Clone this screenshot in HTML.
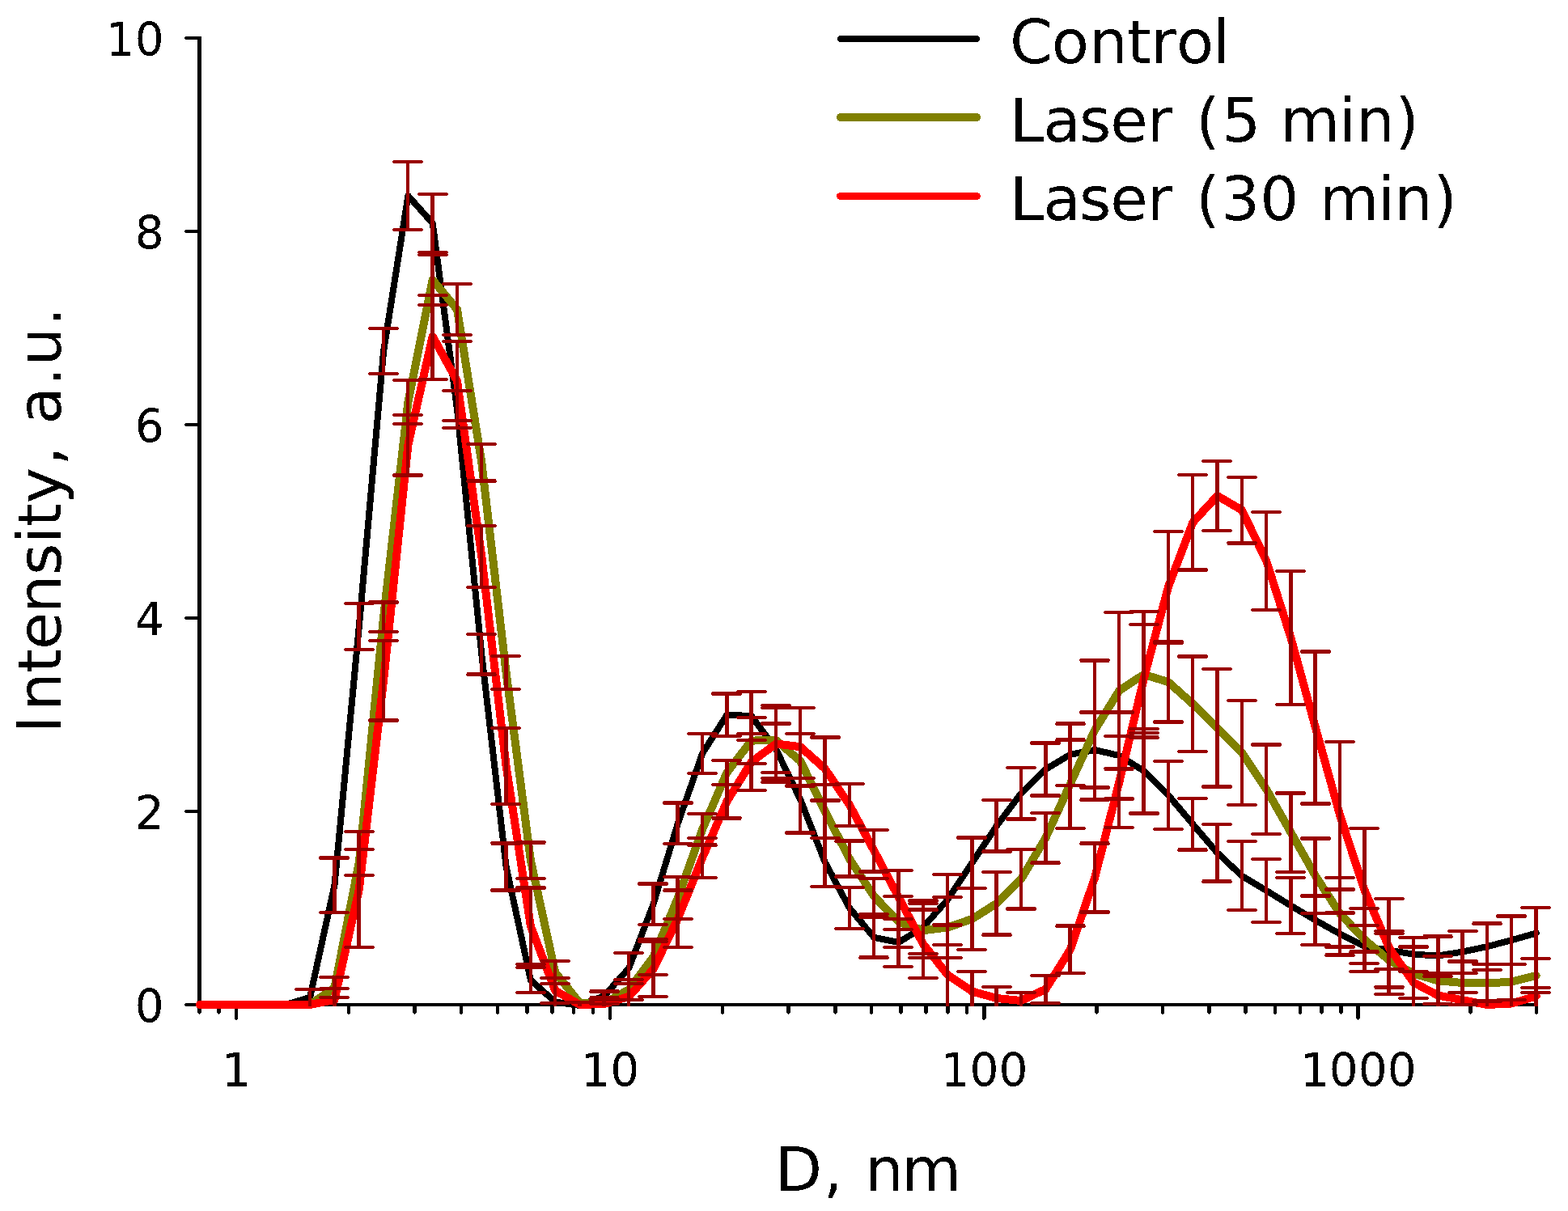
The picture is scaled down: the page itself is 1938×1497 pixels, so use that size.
<!DOCTYPE html>
<html lang="en"><head><meta charset="utf-8"><title>DLS intensity distribution</title>
<style>html,body{margin:0;padding:0;background:#fff}body{width:1938px;height:1497px;overflow:hidden}svg{display:block}text{font-family:"DejaVu Sans","Liberation Sans",sans-serif;fill:#000}</style></head><body>
<svg width="1938" height="1497" viewBox="0 0 1938 1497" shape-rendering="crispEdges">
<defs><clipPath id="eb"><rect x="0" y="0" width="1938" height="1244"/></clipPath><filter id="crisp" x="0" y="0" width="100%" height="100%" filterUnits="userSpaceOnUse" color-interpolation-filters="sRGB"><feComponentTransfer><feFuncA type="discrete" tableValues="0 1"/></feComponentTransfer></filter></defs>
<rect width="1938" height="1497" fill="#fff"/>
<path d="M246.5 45 V1244" fill="none" stroke="#000" stroke-width="5"/>
<path d="M244 1242 H1901.3" fill="none" stroke="#000" stroke-width="4"/>
<path d="M246 1240 H229.3 L227.2 1242 L229.3 1244 H246 Z M246 1001 H229.3 L227.2 1003 L229.3 1005 H246 Z M246 762 H229.3 L227.2 764 L229.3 766 H246 Z M246 523 H229.3 L227.2 525 L229.3 527 H246 Z M246 284 H229.3 L227.2 286 L229.3 288 H246 Z M246 45 H229.3 L227.2 47 L229.3 49 H246 Z M244.00 1242 V1252 L246.50 1254.3 L249.00 1252 V1242 Z M268.35 1242 V1252 L270.60 1254.3 L272.85 1252 V1242 Z M289.50 1242 V1259 L291.75 1261.3 L294.00 1259 V1242 Z M428.65 1242 V1252 L430.90 1254.3 L433.15 1252 V1242 Z M510.05 1242 V1252 L512.30 1254.3 L514.55 1252 V1242 Z M567.80 1242 V1252 L570.05 1254.3 L572.30 1252 V1242 Z M612.60 1242 V1252 L614.85 1254.3 L617.10 1252 V1242 Z M649.20 1242 V1252 L651.45 1254.3 L653.70 1252 V1242 Z M680.15 1242 V1252 L682.40 1254.3 L684.65 1252 V1242 Z M706.95 1242 V1252 L709.20 1254.3 L711.45 1252 V1242 Z M730.60 1242 V1252 L732.85 1254.3 L735.10 1252 V1242 Z M751.75 1242 V1259 L754.00 1261.3 L756.25 1259 V1242 Z M890.90 1242 V1252 L893.15 1254.3 L895.40 1252 V1242 Z M972.30 1242 V1252 L974.55 1254.3 L976.80 1252 V1242 Z M1030.05 1242 V1252 L1032.30 1254.3 L1034.55 1252 V1242 Z M1074.85 1242 V1252 L1077.10 1254.3 L1079.35 1252 V1242 Z M1111.45 1242 V1252 L1113.70 1254.3 L1115.95 1252 V1242 Z M1142.40 1242 V1252 L1144.65 1254.3 L1146.90 1252 V1242 Z M1169.20 1242 V1252 L1171.45 1254.3 L1173.70 1252 V1242 Z M1192.85 1242 V1252 L1195.10 1254.3 L1197.35 1252 V1242 Z M1214.00 1242 V1259 L1216.25 1261.3 L1218.50 1259 V1242 Z M1353.15 1242 V1252 L1355.40 1254.3 L1357.65 1252 V1242 Z M1434.55 1242 V1252 L1436.80 1254.3 L1439.05 1252 V1242 Z M1492.30 1242 V1252 L1494.55 1254.3 L1496.80 1252 V1242 Z M1537.10 1242 V1252 L1539.35 1254.3 L1541.60 1252 V1242 Z M1573.70 1242 V1252 L1575.95 1254.3 L1578.20 1252 V1242 Z M1604.65 1242 V1252 L1606.90 1254.3 L1609.15 1252 V1242 Z M1631.45 1242 V1252 L1633.70 1254.3 L1635.95 1252 V1242 Z M1655.10 1242 V1252 L1657.35 1254.3 L1659.60 1252 V1242 Z M1676.25 1242 V1259 L1678.50 1261.3 L1680.75 1259 V1242 Z M1815.40 1242 V1252 L1817.65 1254.3 L1819.90 1252 V1242 Z M1896.80 1242 V1252 L1899.05 1254.3 L1901.30 1252 V1242 Z" fill="#000" stroke="none"/>
<polyline points="247.0,1242.0 352.8,1242.0 383.1,1233.0 413.5,1094.0 443.8,774.5 474.1,434.0 504.4,242.0 534.7,276.0 565.0,506.0 595.3,808.8 625.6,1071.4 655.9,1211.5 686.2,1238.5 716.6,1243.0 746.9,1231.0 777.2,1197.0 807.5,1117.7 837.8,1017.9 868.1,931.5 898.4,883.7 928.7,885.0 959.0,926.0 989.3,988.5 1019.7,1065.9 1050.0,1122.5 1080.3,1158.9 1110.6,1165.0 1140.9,1146.2 1171.2,1112.2 1201.5,1066.6 1231.8,1020.8 1262.1,980.7 1292.4,951.0 1322.8,932.8 1353.1,927.0 1383.4,934.0 1413.7,953.0 1444.0,983.0 1474.3,1018.8 1504.6,1054.3 1534.9,1082.7 1565.2,1100.9 1595.5,1119.5 1625.9,1137.6 1656.2,1154.5 1686.5,1170.0 1716.8,1174.6 1747.1,1179.7 1777.4,1181.5 1807.7,1176.6 1838.0,1170.2 1868.3,1162.2 1898.7,1153.5" fill="none" stroke="#000000" stroke-width="8" stroke-linejoin="round" stroke-linecap="round"/>
<polyline points="247.0,1242.0 383.1,1242.0 413.5,1221.0 443.8,1066.0 474.1,762.7 504.4,497.0 534.7,346.0 565.0,382.5 595.3,571.8 625.6,831.5 655.9,1063.6 686.2,1202.0 716.6,1240.0 746.9,1240.0 777.2,1223.4 807.5,1183.0 837.8,1110.0 868.1,1025.4 898.4,955.0 928.7,915.6 959.0,915.0 989.3,941.0 1019.7,1003.0 1050.0,1061.7 1080.3,1108.0 1110.6,1139.5 1140.9,1150.2 1171.2,1146.5 1201.5,1136.0 1231.8,1116.8 1262.1,1086.8 1292.4,1035.7 1322.8,969.2 1353.1,902.5 1383.4,853.6 1413.7,833.8 1444.0,843.1 1474.3,870.2 1504.6,899.7 1534.9,930.5 1565.2,975.7 1595.5,1029.2 1625.9,1082.7 1656.2,1129.5 1686.5,1161.5 1716.8,1186.9 1747.1,1203.5 1777.4,1212.3 1807.7,1215.0 1838.0,1215.5 1868.3,1213.6 1898.7,1205.9" fill="none" stroke="#808000" stroke-width="10" stroke-linejoin="round" stroke-linecap="round"/>
<polyline points="247.0,1242.0 383.1,1242.0 413.5,1236.0 443.8,1099.5 474.1,841.0 504.4,550.0 534.7,415.8 565.0,471.0 595.3,687.9 625.6,947.0 655.9,1144.9 686.2,1224.5 716.6,1242.0 746.9,1241.0 777.2,1232.0 807.5,1198.0 837.8,1135.7 868.1,1060.4 898.4,990.7 928.7,942.0 959.0,919.5 989.3,923.2 1019.7,950.4 1050.0,995.1 1080.3,1051.6 1110.6,1109.0 1140.9,1166.8 1171.2,1205.0 1201.5,1225.5 1231.8,1234.0 1262.1,1237.0 1292.4,1222.8 1322.8,1173.8 1353.1,1085.0 1383.4,966.5 1413.7,839.0 1444.0,725.4 1474.3,645.8 1504.6,612.9 1534.9,630.6 1565.2,693.4 1595.5,788.5 1625.9,899.5 1656.2,1008.0 1686.5,1100.4 1716.8,1171.5 1747.1,1214.5 1777.4,1230.5 1807.7,1236.3 1838.0,1242.0 1868.3,1240.5 1898.7,1231.4" fill="none" stroke="#ff0000" stroke-width="10" stroke-linejoin="round" stroke-linecap="round"/>
<g clip-path="url(#eb)"><path d="M380.75 1223.0 h4.5 V1260.0 h-4.5 Z M365 1220.75 h36 v4.5 h-36 Z M364 1221.90 h38 v2.2 h-38 Z M411.06 1060.4 h4.5 V1128.0 h-4.5 Z M395 1058.15 h36 v4.5 h-36 Z M394 1059.30 h38 v2.2 h-38 Z M395 1125.75 h36 v4.5 h-36 Z M394 1126.90 h38 v2.2 h-38 Z M441.37 746.0 h4.5 V803.0 h-4.5 Z M426 743.75 h36 v4.5 h-36 Z M425 744.90 h38 v2.2 h-38 Z M426 800.75 h36 v4.5 h-36 Z M425 801.90 h38 v2.2 h-38 Z M471.68 406.0 h4.5 V462.0 h-4.5 Z M456 403.75 h36 v4.5 h-36 Z M455 404.90 h38 v2.2 h-38 Z M456 459.75 h36 v4.5 h-36 Z M455 460.90 h38 v2.2 h-38 Z M501.99 200.0 h4.5 V284.0 h-4.5 Z M486 197.75 h36 v4.5 h-36 Z M485 198.90 h38 v2.2 h-38 Z M486 281.75 h36 v4.5 h-36 Z M485 282.90 h38 v2.2 h-38 Z M532.30 240.0 h4.5 V312.0 h-4.5 Z M517 237.75 h36 v4.5 h-36 Z M516 238.90 h38 v2.2 h-38 Z M517 309.75 h36 v4.5 h-36 Z M516 310.90 h38 v2.2 h-38 Z M562.61 483.0 h4.5 V528.8 h-4.5 Z M547 480.75 h36 v4.5 h-36 Z M546 481.90 h38 v2.2 h-38 Z M547 526.55 h36 v4.5 h-36 Z M546 527.70 h38 v2.2 h-38 Z M592.92 784.0 h4.5 V833.6 h-4.5 Z M577 781.75 h36 v4.5 h-36 Z M576 782.90 h38 v2.2 h-38 Z M577 831.35 h36 v4.5 h-36 Z M576 832.50 h38 v2.2 h-38 Z M623.23 1042.3 h4.5 V1100.5 h-4.5 Z M607 1040.05 h36 v4.5 h-36 Z M606 1041.20 h38 v2.2 h-38 Z M607 1098.25 h36 v4.5 h-36 Z M606 1099.40 h38 v2.2 h-38 Z M653.54 1196.0 h4.5 V1227.0 h-4.5 Z M638 1193.75 h36 v4.5 h-36 Z M637 1194.90 h38 v2.2 h-38 Z M638 1224.75 h36 v4.5 h-36 Z M637 1225.90 h38 v2.2 h-38 Z M683.85 1240.0 h4.5 V1260.0 h-4.5 Z M668 1237.75 h36 v4.5 h-36 Z M667 1238.90 h38 v2.2 h-38 Z M714.16 1239.0 h4.5 V1260.0 h-4.5 Z M698 1236.75 h36 v4.5 h-36 Z M697 1237.90 h38 v2.2 h-38 Z M744.47 1225.7 h4.5 V1236.0 h-4.5 Z M729 1223.45 h36 v4.5 h-36 Z M728 1224.60 h38 v2.2 h-38 Z M729 1233.75 h36 v4.5 h-36 Z M728 1234.90 h38 v2.2 h-38 Z M774.78 1178.0 h4.5 V1215.8 h-4.5 Z M759 1175.75 h36 v4.5 h-36 Z M758 1176.90 h38 v2.2 h-38 Z M759 1213.55 h36 v4.5 h-36 Z M758 1214.70 h38 v2.2 h-38 Z M805.09 1092.4 h4.5 V1143.0 h-4.5 Z M789 1090.15 h36 v4.5 h-36 Z M788 1091.30 h38 v2.2 h-38 Z M789 1140.75 h36 v4.5 h-36 Z M788 1141.90 h38 v2.2 h-38 Z M835.40 992.5 h4.5 V1043.2 h-4.5 Z M820 990.25 h36 v4.5 h-36 Z M819 991.40 h38 v2.2 h-38 Z M820 1040.95 h36 v4.5 h-36 Z M819 1042.10 h38 v2.2 h-38 Z M865.71 907.0 h4.5 V956.0 h-4.5 Z M850 904.75 h36 v4.5 h-36 Z M849 905.90 h38 v2.2 h-38 Z M850 953.75 h36 v4.5 h-36 Z M849 954.90 h38 v2.2 h-38 Z M896.02 857.4 h4.5 V910.0 h-4.5 Z M880 855.15 h36 v4.5 h-36 Z M879 856.30 h38 v2.2 h-38 Z M880 907.75 h36 v4.5 h-36 Z M879 908.90 h38 v2.2 h-38 Z M926.33 854.9 h4.5 V915.2 h-4.5 Z M911 852.65 h36 v4.5 h-36 Z M910 853.80 h38 v2.2 h-38 Z M911 912.95 h36 v4.5 h-36 Z M910 914.10 h38 v2.2 h-38 Z M956.64 874.9 h4.5 V966.7 h-4.5 Z M941 872.65 h36 v4.5 h-36 Z M940 873.80 h38 v2.2 h-38 Z M941 964.45 h36 v4.5 h-36 Z M940 965.60 h38 v2.2 h-38 Z M986.95 962.2 h4.5 V1029.5 h-4.5 Z M971 959.95 h36 v4.5 h-36 Z M970 961.10 h38 v2.2 h-38 Z M971 1027.25 h36 v4.5 h-36 Z M970 1028.40 h38 v2.2 h-38 Z M1017.26 1035.8 h4.5 V1096.0 h-4.5 Z M1002 1033.55 h36 v4.5 h-36 Z M1001 1034.70 h38 v2.2 h-38 Z M1002 1093.75 h36 v4.5 h-36 Z M1001 1094.90 h38 v2.2 h-38 Z M1047.57 1097.0 h4.5 V1148.0 h-4.5 Z M1032 1094.75 h36 v4.5 h-36 Z M1031 1095.90 h38 v2.2 h-38 Z M1032 1145.75 h36 v4.5 h-36 Z M1031 1146.90 h38 v2.2 h-38 Z M1077.88 1134.0 h4.5 V1183.7 h-4.5 Z M1062 1131.75 h36 v4.5 h-36 Z M1061 1132.90 h38 v2.2 h-38 Z M1062 1181.45 h36 v4.5 h-36 Z M1061 1182.60 h38 v2.2 h-38 Z M1108.19 1135.8 h4.5 V1195.0 h-4.5 Z M1092 1133.55 h36 v4.5 h-36 Z M1091 1134.70 h38 v2.2 h-38 Z M1092 1192.75 h36 v4.5 h-36 Z M1091 1193.90 h38 v2.2 h-38 Z M1138.50 1113.5 h4.5 V1178.9 h-4.5 Z M1123 1111.25 h36 v4.5 h-36 Z M1122 1112.40 h38 v2.2 h-38 Z M1123 1176.65 h36 v4.5 h-36 Z M1122 1177.80 h38 v2.2 h-38 Z M1168.81 1081.2 h4.5 V1143.3 h-4.5 Z M1153 1078.95 h36 v4.5 h-36 Z M1152 1080.10 h38 v2.2 h-38 Z M1153 1141.05 h36 v4.5 h-36 Z M1152 1142.20 h38 v2.2 h-38 Z M1199.12 1035.4 h4.5 V1097.9 h-4.5 Z M1183 1033.15 h36 v4.5 h-36 Z M1182 1034.30 h38 v2.2 h-38 Z M1183 1095.65 h36 v4.5 h-36 Z M1182 1096.80 h38 v2.2 h-38 Z M1229.43 988.9 h4.5 V1052.7 h-4.5 Z M1214 986.65 h36 v4.5 h-36 Z M1213 987.80 h38 v2.2 h-38 Z M1214 1050.45 h36 v4.5 h-36 Z M1213 1051.60 h38 v2.2 h-38 Z M1259.74 949.0 h4.5 V1012.4 h-4.5 Z M1244 946.75 h36 v4.5 h-36 Z M1243 947.90 h38 v2.2 h-38 Z M1244 1010.15 h36 v4.5 h-36 Z M1243 1011.30 h38 v2.2 h-38 Z M1290.05 918.5 h4.5 V983.4 h-4.5 Z M1274 916.25 h36 v4.5 h-36 Z M1273 917.40 h38 v2.2 h-38 Z M1274 981.15 h36 v4.5 h-36 Z M1273 982.30 h38 v2.2 h-38 Z M1320.36 894.7 h4.5 V970.8 h-4.5 Z M1305 892.45 h36 v4.5 h-36 Z M1304 893.60 h38 v2.2 h-38 Z M1305 968.55 h36 v4.5 h-36 Z M1304 969.70 h38 v2.2 h-38 Z M1350.67 880.4 h4.5 V973.5 h-4.5 Z M1335 878.15 h36 v4.5 h-36 Z M1334 879.30 h38 v2.2 h-38 Z M1335 971.25 h36 v4.5 h-36 Z M1334 972.40 h38 v2.2 h-38 Z M1380.98 880.4 h4.5 V987.5 h-4.5 Z M1365 878.15 h36 v4.5 h-36 Z M1364 879.30 h38 v2.2 h-38 Z M1365 985.25 h36 v4.5 h-36 Z M1364 986.40 h38 v2.2 h-38 Z M1411.29 900.9 h4.5 V1005.4 h-4.5 Z M1396 898.65 h36 v4.5 h-36 Z M1395 899.80 h38 v2.2 h-38 Z M1396 1003.15 h36 v4.5 h-36 Z M1395 1004.30 h38 v2.2 h-38 Z M1441.60 941.0 h4.5 V1025.0 h-4.5 Z M1426 938.75 h36 v4.5 h-36 Z M1425 939.90 h38 v2.2 h-38 Z M1426 1022.75 h36 v4.5 h-36 Z M1425 1023.90 h38 v2.2 h-38 Z M1471.91 987.0 h4.5 V1050.7 h-4.5 Z M1456 984.75 h36 v4.5 h-36 Z M1455 985.90 h38 v2.2 h-38 Z M1456 1048.45 h36 v4.5 h-36 Z M1455 1049.60 h38 v2.2 h-38 Z M1502.22 1018.9 h4.5 V1089.7 h-4.5 Z M1486 1016.65 h36 v4.5 h-36 Z M1485 1017.80 h38 v2.2 h-38 Z M1486 1087.45 h36 v4.5 h-36 Z M1485 1088.60 h38 v2.2 h-38 Z M1532.53 1040.2 h4.5 V1125.1 h-4.5 Z M1517 1037.95 h36 v4.5 h-36 Z M1516 1039.10 h38 v2.2 h-38 Z M1517 1122.85 h36 v4.5 h-36 Z M1516 1124.00 h38 v2.2 h-38 Z M1562.84 1061.9 h4.5 V1139.9 h-4.5 Z M1547 1059.65 h36 v4.5 h-36 Z M1546 1060.80 h38 v2.2 h-38 Z M1547 1137.65 h36 v4.5 h-36 Z M1546 1138.80 h38 v2.2 h-38 Z M1593.15 1085.0 h4.5 V1153.9 h-4.5 Z M1577 1082.75 h36 v4.5 h-36 Z M1576 1083.90 h38 v2.2 h-38 Z M1577 1151.65 h36 v4.5 h-36 Z M1576 1152.80 h38 v2.2 h-38 Z M1623.46 1107.5 h4.5 V1167.8 h-4.5 Z M1608 1105.25 h36 v4.5 h-36 Z M1607 1106.40 h38 v2.2 h-38 Z M1608 1165.55 h36 v4.5 h-36 Z M1607 1166.70 h38 v2.2 h-38 Z M1653.77 1128.4 h4.5 V1180.7 h-4.5 Z M1638 1126.15 h36 v4.5 h-36 Z M1637 1127.30 h38 v2.2 h-38 Z M1638 1178.45 h36 v4.5 h-36 Z M1637 1179.60 h38 v2.2 h-38 Z M1684.08 1143.8 h4.5 V1200.9 h-4.5 Z M1668 1141.55 h36 v4.5 h-36 Z M1667 1142.70 h38 v2.2 h-38 Z M1668 1198.65 h36 v4.5 h-36 Z M1667 1199.80 h38 v2.2 h-38 Z M1714.39 1151.0 h4.5 V1198.2 h-4.5 Z M1699 1148.75 h36 v4.5 h-36 Z M1698 1149.90 h38 v2.2 h-38 Z M1699 1195.95 h36 v4.5 h-36 Z M1698 1197.10 h38 v2.2 h-38 Z M1744.70 1159.2 h4.5 V1201.0 h-4.5 Z M1729 1156.95 h36 v4.5 h-36 Z M1728 1158.10 h38 v2.2 h-38 Z M1729 1198.75 h36 v4.5 h-36 Z M1728 1199.90 h38 v2.2 h-38 Z M1775.01 1157.7 h4.5 V1203.3 h-4.5 Z M1759 1155.45 h36 v4.5 h-36 Z M1758 1156.60 h38 v2.2 h-38 Z M1759 1201.05 h36 v4.5 h-36 Z M1758 1202.20 h38 v2.2 h-38 Z M1805.32 1151.0 h4.5 V1203.1 h-4.5 Z M1790 1148.75 h36 v4.5 h-36 Z M1789 1149.90 h38 v2.2 h-38 Z M1790 1200.85 h36 v4.5 h-36 Z M1789 1202.00 h38 v2.2 h-38 Z M1835.63 1141.7 h4.5 V1198.8 h-4.5 Z M1820 1139.45 h36 v4.5 h-36 Z M1819 1140.60 h38 v2.2 h-38 Z M1820 1196.55 h36 v4.5 h-36 Z M1819 1197.70 h38 v2.2 h-38 Z M1865.94 1132.5 h4.5 V1192.0 h-4.5 Z M1850 1130.25 h36 v4.5 h-36 Z M1849 1131.40 h38 v2.2 h-38 Z M1850 1189.75 h36 v4.5 h-36 Z M1849 1190.90 h38 v2.2 h-38 Z M1896.25 1122.2 h4.5 V1184.8 h-4.5 Z M1880 1119.95 h36 v4.5 h-36 Z M1879 1121.10 h38 v2.2 h-38 Z M1880 1182.55 h36 v4.5 h-36 Z M1879 1183.70 h38 v2.2 h-38 Z M411.06 1208.0 h4.5 V1233.0 h-4.5 Z M395 1205.75 h36 v4.5 h-36 Z M394 1206.90 h38 v2.2 h-38 Z M395 1230.75 h36 v4.5 h-36 Z M394 1231.90 h38 v2.2 h-38 Z M441.37 1050.0 h4.5 V1082.0 h-4.5 Z M426 1047.75 h36 v4.5 h-36 Z M425 1048.90 h38 v2.2 h-38 Z M426 1079.75 h36 v4.5 h-36 Z M425 1080.90 h38 v2.2 h-38 Z M471.68 744.4 h4.5 V781.0 h-4.5 Z M456 742.15 h36 v4.5 h-36 Z M455 743.30 h38 v2.2 h-38 Z M456 778.75 h36 v4.5 h-36 Z M455 779.90 h38 v2.2 h-38 Z M501.99 470.0 h4.5 V524.0 h-4.5 Z M486 467.75 h36 v4.5 h-36 Z M485 468.90 h38 v2.2 h-38 Z M486 521.75 h36 v4.5 h-36 Z M485 522.90 h38 v2.2 h-38 Z M532.30 314.6 h4.5 V377.0 h-4.5 Z M517 312.35 h36 v4.5 h-36 Z M516 313.50 h38 v2.2 h-38 Z M517 374.75 h36 v4.5 h-36 Z M516 375.90 h38 v2.2 h-38 Z M562.61 351.0 h4.5 V414.0 h-4.5 Z M547 348.75 h36 v4.5 h-36 Z M546 349.90 h38 v2.2 h-38 Z M547 411.75 h36 v4.5 h-36 Z M546 412.90 h38 v2.2 h-38 Z M592.92 548.9 h4.5 V594.7 h-4.5 Z M577 546.65 h36 v4.5 h-36 Z M576 547.80 h38 v2.2 h-38 Z M577 592.45 h36 v4.5 h-36 Z M576 593.60 h38 v2.2 h-38 Z M623.23 811.0 h4.5 V852.0 h-4.5 Z M607 808.75 h36 v4.5 h-36 Z M606 809.90 h38 v2.2 h-38 Z M607 849.75 h36 v4.5 h-36 Z M606 850.90 h38 v2.2 h-38 Z M653.54 1041.3 h4.5 V1085.9 h-4.5 Z M638 1039.05 h36 v4.5 h-36 Z M637 1040.20 h38 v2.2 h-38 Z M638 1083.65 h36 v4.5 h-36 Z M637 1084.80 h38 v2.2 h-38 Z M683.85 1188.2 h4.5 V1215.8 h-4.5 Z M668 1185.95 h36 v4.5 h-36 Z M667 1187.10 h38 v2.2 h-38 Z M668 1213.55 h36 v4.5 h-36 Z M667 1214.70 h38 v2.2 h-38 Z M744.47 1233.7 h4.5 V1260.0 h-4.5 Z M729 1231.45 h36 v4.5 h-36 Z M728 1232.60 h38 v2.2 h-38 Z M774.78 1210.8 h4.5 V1236.0 h-4.5 Z M759 1208.55 h36 v4.5 h-36 Z M758 1209.70 h38 v2.2 h-38 Z M759 1233.75 h36 v4.5 h-36 Z M758 1234.90 h38 v2.2 h-38 Z M805.09 1161.0 h4.5 V1205.0 h-4.5 Z M789 1158.75 h36 v4.5 h-36 Z M788 1159.90 h38 v2.2 h-38 Z M789 1202.75 h36 v4.5 h-36 Z M788 1203.90 h38 v2.2 h-38 Z M835.40 1084.0 h4.5 V1135.8 h-4.5 Z M820 1081.75 h36 v4.5 h-36 Z M819 1082.90 h38 v2.2 h-38 Z M820 1133.55 h36 v4.5 h-36 Z M819 1134.70 h38 v2.2 h-38 Z M865.71 1006.2 h4.5 V1044.6 h-4.5 Z M850 1003.95 h36 v4.5 h-36 Z M849 1005.10 h38 v2.2 h-38 Z M850 1042.35 h36 v4.5 h-36 Z M849 1043.50 h38 v2.2 h-38 Z M896.02 939.9 h4.5 V970.2 h-4.5 Z M880 937.65 h36 v4.5 h-36 Z M879 938.80 h38 v2.2 h-38 Z M880 967.95 h36 v4.5 h-36 Z M879 969.10 h38 v2.2 h-38 Z M926.33 887.1 h4.5 V944.0 h-4.5 Z M911 884.85 h36 v4.5 h-36 Z M910 886.00 h38 v2.2 h-38 Z M911 941.75 h36 v4.5 h-36 Z M910 942.90 h38 v2.2 h-38 Z M956.64 871.8 h4.5 V955.1 h-4.5 Z M941 869.55 h36 v4.5 h-36 Z M940 870.70 h38 v2.2 h-38 Z M941 952.85 h36 v4.5 h-36 Z M940 954.00 h38 v2.2 h-38 Z M986.95 907.0 h4.5 V971.5 h-4.5 Z M971 904.75 h36 v4.5 h-36 Z M970 905.90 h38 v2.2 h-38 Z M971 969.25 h36 v4.5 h-36 Z M970 970.40 h38 v2.2 h-38 Z M1017.26 970.2 h4.5 V1035.8 h-4.5 Z M1002 967.95 h36 v4.5 h-36 Z M1001 969.10 h38 v2.2 h-38 Z M1002 1033.55 h36 v4.5 h-36 Z M1001 1034.70 h38 v2.2 h-38 Z M1047.57 1039.7 h4.5 V1083.7 h-4.5 Z M1032 1037.45 h36 v4.5 h-36 Z M1031 1038.60 h38 v2.2 h-38 Z M1032 1081.45 h36 v4.5 h-36 Z M1031 1082.60 h38 v2.2 h-38 Z M1077.88 1085.9 h4.5 V1130.2 h-4.5 Z M1062 1083.65 h36 v4.5 h-36 Z M1061 1084.80 h38 v2.2 h-38 Z M1062 1127.95 h36 v4.5 h-36 Z M1061 1129.10 h38 v2.2 h-38 Z M1108.19 1108.0 h4.5 V1171.1 h-4.5 Z M1092 1105.75 h36 v4.5 h-36 Z M1091 1106.90 h38 v2.2 h-38 Z M1092 1168.85 h36 v4.5 h-36 Z M1091 1170.00 h38 v2.2 h-38 Z M1138.50 1116.6 h4.5 V1183.9 h-4.5 Z M1123 1114.35 h36 v4.5 h-36 Z M1122 1115.50 h38 v2.2 h-38 Z M1123 1181.65 h36 v4.5 h-36 Z M1122 1182.80 h38 v2.2 h-38 Z M1168.81 1109.2 h4.5 V1183.9 h-4.5 Z M1153 1106.95 h36 v4.5 h-36 Z M1152 1108.10 h38 v2.2 h-38 Z M1153 1181.65 h36 v4.5 h-36 Z M1152 1182.80 h38 v2.2 h-38 Z M1199.12 1098.0 h4.5 V1174.0 h-4.5 Z M1183 1095.75 h36 v4.5 h-36 Z M1182 1096.90 h38 v2.2 h-38 Z M1183 1171.75 h36 v4.5 h-36 Z M1182 1172.90 h38 v2.2 h-38 Z M1229.43 1078.0 h4.5 V1155.6 h-4.5 Z M1214 1075.75 h36 v4.5 h-36 Z M1213 1076.90 h38 v2.2 h-38 Z M1214 1153.35 h36 v4.5 h-36 Z M1213 1154.50 h38 v2.2 h-38 Z M1259.74 1050.2 h4.5 V1123.4 h-4.5 Z M1244 1047.95 h36 v4.5 h-36 Z M1243 1049.10 h38 v2.2 h-38 Z M1244 1121.15 h36 v4.5 h-36 Z M1243 1122.30 h38 v2.2 h-38 Z M1290.05 1004.8 h4.5 V1066.7 h-4.5 Z M1274 1002.55 h36 v4.5 h-36 Z M1273 1003.70 h38 v2.2 h-38 Z M1274 1064.45 h36 v4.5 h-36 Z M1273 1065.60 h38 v2.2 h-38 Z M1320.36 914.6 h4.5 V1023.8 h-4.5 Z M1305 912.35 h36 v4.5 h-36 Z M1304 913.50 h38 v2.2 h-38 Z M1305 1021.55 h36 v4.5 h-36 Z M1304 1022.70 h38 v2.2 h-38 Z M1350.67 816.3 h4.5 V988.7 h-4.5 Z M1335 814.05 h36 v4.5 h-36 Z M1334 815.20 h38 v2.2 h-38 Z M1335 986.45 h36 v4.5 h-36 Z M1334 987.60 h38 v2.2 h-38 Z M1380.98 757.0 h4.5 V950.3 h-4.5 Z M1365 754.75 h36 v4.5 h-36 Z M1364 755.90 h38 v2.2 h-38 Z M1365 948.05 h36 v4.5 h-36 Z M1364 949.20 h38 v2.2 h-38 Z M1411.29 755.8 h4.5 V911.7 h-4.5 Z M1396 753.55 h36 v4.5 h-36 Z M1395 754.70 h38 v2.2 h-38 Z M1396 909.45 h36 v4.5 h-36 Z M1395 910.60 h38 v2.2 h-38 Z M1441.60 793.0 h4.5 V892.5 h-4.5 Z M1426 790.75 h36 v4.5 h-36 Z M1425 791.90 h38 v2.2 h-38 Z M1426 890.25 h36 v4.5 h-36 Z M1425 891.40 h38 v2.2 h-38 Z M1471.91 811.4 h4.5 V929.0 h-4.5 Z M1456 809.15 h36 v4.5 h-36 Z M1455 810.30 h38 v2.2 h-38 Z M1456 926.75 h36 v4.5 h-36 Z M1455 927.90 h38 v2.2 h-38 Z M1502.22 826.9 h4.5 V972.4 h-4.5 Z M1486 824.65 h36 v4.5 h-36 Z M1485 825.80 h38 v2.2 h-38 Z M1486 970.15 h36 v4.5 h-36 Z M1485 971.30 h38 v2.2 h-38 Z M1532.53 866.0 h4.5 V995.0 h-4.5 Z M1517 863.75 h36 v4.5 h-36 Z M1516 864.90 h38 v2.2 h-38 Z M1517 992.75 h36 v4.5 h-36 Z M1516 993.90 h38 v2.2 h-38 Z M1562.84 920.4 h4.5 V1030.9 h-4.5 Z M1547 918.15 h36 v4.5 h-36 Z M1546 919.30 h38 v2.2 h-38 Z M1547 1028.65 h36 v4.5 h-36 Z M1546 1029.80 h38 v2.2 h-38 Z M1593.15 980.4 h4.5 V1078.0 h-4.5 Z M1577 978.15 h36 v4.5 h-36 Z M1576 979.30 h38 v2.2 h-38 Z M1577 1075.75 h36 v4.5 h-36 Z M1576 1076.90 h38 v2.2 h-38 Z M1623.46 1036.5 h4.5 V1128.8 h-4.5 Z M1608 1034.25 h36 v4.5 h-36 Z M1607 1035.40 h38 v2.2 h-38 Z M1608 1126.55 h36 v4.5 h-36 Z M1607 1127.70 h38 v2.2 h-38 Z M1653.77 1085.0 h4.5 V1170.5 h-4.5 Z M1638 1082.75 h36 v4.5 h-36 Z M1637 1083.90 h38 v2.2 h-38 Z M1638 1168.25 h36 v4.5 h-36 Z M1637 1169.40 h38 v2.2 h-38 Z M1684.08 1122.8 h4.5 V1191.0 h-4.5 Z M1668 1120.55 h36 v4.5 h-36 Z M1667 1121.70 h38 v2.2 h-38 Z M1668 1188.75 h36 v4.5 h-36 Z M1667 1189.90 h38 v2.2 h-38 Z M1714.39 1154.0 h4.5 V1220.3 h-4.5 Z M1699 1151.75 h36 v4.5 h-36 Z M1698 1152.90 h38 v2.2 h-38 Z M1699 1218.05 h36 v4.5 h-36 Z M1698 1219.20 h38 v2.2 h-38 Z M1744.70 1170.5 h4.5 V1234.0 h-4.5 Z M1729 1168.25 h36 v4.5 h-36 Z M1728 1169.40 h38 v2.2 h-38 Z M1729 1231.75 h36 v4.5 h-36 Z M1728 1232.90 h38 v2.2 h-38 Z M1775.01 1181.8 h4.5 V1241.0 h-4.5 Z M1759 1179.55 h36 v4.5 h-36 Z M1758 1180.70 h38 v2.2 h-38 Z M1759 1238.75 h36 v4.5 h-36 Z M1758 1239.90 h38 v2.2 h-38 Z M1805.32 1188.5 h4.5 V1242.0 h-4.5 Z M1790 1186.25 h36 v4.5 h-36 Z M1789 1187.40 h38 v2.2 h-38 Z M1790 1239.75 h36 v4.5 h-36 Z M1789 1240.90 h38 v2.2 h-38 Z M1835.63 1192.0 h4.5 V1237.7 h-4.5 Z M1820 1189.75 h36 v4.5 h-36 Z M1819 1190.90 h38 v2.2 h-38 Z M1820 1235.45 h36 v4.5 h-36 Z M1819 1236.60 h38 v2.2 h-38 Z M1865.94 1192.0 h4.5 V1235.8 h-4.5 Z M1850 1189.75 h36 v4.5 h-36 Z M1849 1190.90 h38 v2.2 h-38 Z M1850 1233.55 h36 v4.5 h-36 Z M1849 1234.70 h38 v2.2 h-38 Z M1896.25 1184.8 h4.5 V1227.0 h-4.5 Z M1880 1182.55 h36 v4.5 h-36 Z M1879 1183.70 h38 v2.2 h-38 Z M1880 1224.75 h36 v4.5 h-36 Z M1879 1225.90 h38 v2.2 h-38 Z M411.06 1222.0 h4.5 V1250.0 h-4.5 Z M395 1219.75 h36 v4.5 h-36 Z M394 1220.90 h38 v2.2 h-38 Z M441.37 1028.0 h4.5 V1171.0 h-4.5 Z M426 1025.75 h36 v4.5 h-36 Z M425 1026.90 h38 v2.2 h-38 Z M426 1168.75 h36 v4.5 h-36 Z M425 1169.90 h38 v2.2 h-38 Z M471.68 792.0 h4.5 V890.5 h-4.5 Z M456 789.75 h36 v4.5 h-36 Z M455 790.90 h38 v2.2 h-38 Z M456 888.25 h36 v4.5 h-36 Z M455 889.40 h38 v2.2 h-38 Z M501.99 513.0 h4.5 V587.4 h-4.5 Z M486 510.75 h36 v4.5 h-36 Z M485 511.90 h38 v2.2 h-38 Z M486 585.15 h36 v4.5 h-36 Z M485 586.30 h38 v2.2 h-38 Z M532.30 365.0 h4.5 V469.0 h-4.5 Z M517 362.75 h36 v4.5 h-36 Z M516 363.90 h38 v2.2 h-38 Z M517 466.75 h36 v4.5 h-36 Z M516 467.90 h38 v2.2 h-38 Z M562.61 422.0 h4.5 V519.9 h-4.5 Z M547 419.75 h36 v4.5 h-36 Z M546 420.90 h38 v2.2 h-38 Z M547 517.65 h36 v4.5 h-36 Z M546 518.80 h38 v2.2 h-38 Z M592.92 649.8 h4.5 V725.9 h-4.5 Z M577 647.55 h36 v4.5 h-36 Z M576 648.70 h38 v2.2 h-38 Z M577 723.65 h36 v4.5 h-36 Z M576 724.80 h38 v2.2 h-38 Z M623.23 900.0 h4.5 V994.0 h-4.5 Z M607 897.75 h36 v4.5 h-36 Z M606 898.90 h38 v2.2 h-38 Z M607 991.75 h36 v4.5 h-36 Z M606 992.90 h38 v2.2 h-38 Z M653.54 1097.4 h4.5 V1192.3 h-4.5 Z M638 1095.15 h36 v4.5 h-36 Z M637 1096.30 h38 v2.2 h-38 Z M638 1190.05 h36 v4.5 h-36 Z M637 1191.20 h38 v2.2 h-38 Z M683.85 1209.0 h4.5 V1240.0 h-4.5 Z M668 1206.75 h36 v4.5 h-36 Z M667 1207.90 h38 v2.2 h-38 Z M668 1237.75 h36 v4.5 h-36 Z M667 1238.90 h38 v2.2 h-38 Z M744.47 1241.0 h4.5 V1260.0 h-4.5 Z M729 1238.75 h36 v4.5 h-36 Z M728 1239.90 h38 v2.2 h-38 Z M774.78 1215.8 h4.5 V1260.0 h-4.5 Z M759 1213.55 h36 v4.5 h-36 Z M758 1214.70 h38 v2.2 h-38 Z M805.09 1163.7 h4.5 V1232.0 h-4.5 Z M789 1161.45 h36 v4.5 h-36 Z M788 1162.60 h38 v2.2 h-38 Z M789 1229.75 h36 v4.5 h-36 Z M788 1230.90 h38 v2.2 h-38 Z M835.40 1100.7 h4.5 V1170.8 h-4.5 Z M820 1098.45 h36 v4.5 h-36 Z M819 1099.60 h38 v2.2 h-38 Z M820 1168.55 h36 v4.5 h-36 Z M819 1169.70 h38 v2.2 h-38 Z M865.71 1035.9 h4.5 V1084.8 h-4.5 Z M850 1033.65 h36 v4.5 h-36 Z M849 1034.80 h38 v2.2 h-38 Z M850 1082.55 h36 v4.5 h-36 Z M849 1083.70 h38 v2.2 h-38 Z M896.02 970.2 h4.5 V1011.3 h-4.5 Z M880 967.95 h36 v4.5 h-36 Z M879 969.10 h38 v2.2 h-38 Z M880 1009.05 h36 v4.5 h-36 Z M879 1010.20 h38 v2.2 h-38 Z M926.33 906.9 h4.5 V977.0 h-4.5 Z M911 904.65 h36 v4.5 h-36 Z M910 905.80 h38 v2.2 h-38 Z M911 974.75 h36 v4.5 h-36 Z M910 975.90 h38 v2.2 h-38 Z M956.64 894.4 h4.5 V962.2 h-4.5 Z M941 892.15 h36 v4.5 h-36 Z M940 893.30 h38 v2.2 h-38 Z M941 959.95 h36 v4.5 h-36 Z M940 961.10 h38 v2.2 h-38 Z M986.95 874.9 h4.5 V971.5 h-4.5 Z M971 872.65 h36 v4.5 h-36 Z M970 873.80 h38 v2.2 h-38 Z M971 969.25 h36 v4.5 h-36 Z M970 970.40 h38 v2.2 h-38 Z M1017.26 911.4 h4.5 V989.4 h-4.5 Z M1002 909.15 h36 v4.5 h-36 Z M1001 910.30 h38 v2.2 h-38 Z M1002 987.15 h36 v4.5 h-36 Z M1001 988.30 h38 v2.2 h-38 Z M1047.57 969.1 h4.5 V1021.1 h-4.5 Z M1032 966.85 h36 v4.5 h-36 Z M1031 968.00 h38 v2.2 h-38 Z M1032 1018.85 h36 v4.5 h-36 Z M1031 1020.00 h38 v2.2 h-38 Z M1077.88 1025.8 h4.5 V1077.5 h-4.5 Z M1062 1023.55 h36 v4.5 h-36 Z M1061 1024.70 h38 v2.2 h-38 Z M1062 1075.25 h36 v4.5 h-36 Z M1061 1076.40 h38 v2.2 h-38 Z M1108.19 1076.0 h4.5 V1148.8 h-4.5 Z M1092 1073.75 h36 v4.5 h-36 Z M1091 1074.90 h38 v2.2 h-38 Z M1092 1146.55 h36 v4.5 h-36 Z M1091 1147.70 h38 v2.2 h-38 Z M1138.50 1124.7 h4.5 V1208.9 h-4.5 Z M1123 1122.45 h36 v4.5 h-36 Z M1122 1123.60 h38 v2.2 h-38 Z M1123 1206.65 h36 v4.5 h-36 Z M1122 1207.80 h38 v2.2 h-38 Z M1168.81 1168.0 h4.5 V1260.0 h-4.5 Z M1153 1165.75 h36 v4.5 h-36 Z M1152 1166.90 h38 v2.2 h-38 Z M1199.12 1200.8 h4.5 V1260.0 h-4.5 Z M1183 1198.55 h36 v4.5 h-36 Z M1182 1199.70 h38 v2.2 h-38 Z M1229.43 1220.0 h4.5 V1260.0 h-4.5 Z M1214 1217.75 h36 v4.5 h-36 Z M1213 1218.90 h38 v2.2 h-38 Z M1259.74 1226.8 h4.5 V1260.0 h-4.5 Z M1244 1224.55 h36 v4.5 h-36 Z M1243 1225.70 h38 v2.2 h-38 Z M1290.05 1205.8 h4.5 V1239.8 h-4.5 Z M1274 1203.55 h36 v4.5 h-36 Z M1273 1204.70 h38 v2.2 h-38 Z M1274 1237.55 h36 v4.5 h-36 Z M1273 1238.70 h38 v2.2 h-38 Z M1320.36 1144.7 h4.5 V1203.0 h-4.5 Z M1305 1142.45 h36 v4.5 h-36 Z M1304 1143.60 h38 v2.2 h-38 Z M1305 1200.75 h36 v4.5 h-36 Z M1304 1201.90 h38 v2.2 h-38 Z M1350.67 1042.6 h4.5 V1127.4 h-4.5 Z M1335 1040.35 h36 v4.5 h-36 Z M1334 1041.50 h38 v2.2 h-38 Z M1335 1125.15 h36 v4.5 h-36 Z M1334 1126.30 h38 v2.2 h-38 Z M1380.98 910.1 h4.5 V1022.8 h-4.5 Z M1365 907.85 h36 v4.5 h-36 Z M1364 909.00 h38 v2.2 h-38 Z M1365 1020.55 h36 v4.5 h-36 Z M1364 1021.70 h38 v2.2 h-38 Z M1411.29 772.0 h4.5 V906.1 h-4.5 Z M1396 769.75 h36 v4.5 h-36 Z M1395 770.90 h38 v2.2 h-38 Z M1396 903.85 h36 v4.5 h-36 Z M1395 905.00 h38 v2.2 h-38 Z M1441.60 657.0 h4.5 V794.6 h-4.5 Z M1426 654.75 h36 v4.5 h-36 Z M1425 655.90 h38 v2.2 h-38 Z M1426 792.35 h36 v4.5 h-36 Z M1425 793.50 h38 v2.2 h-38 Z M1471.91 587.0 h4.5 V704.5 h-4.5 Z M1456 584.75 h36 v4.5 h-36 Z M1455 585.90 h38 v2.2 h-38 Z M1456 702.25 h36 v4.5 h-36 Z M1455 703.40 h38 v2.2 h-38 Z M1502.22 570.0 h4.5 V655.8 h-4.5 Z M1486 567.75 h36 v4.5 h-36 Z M1485 568.90 h38 v2.2 h-38 Z M1486 653.55 h36 v4.5 h-36 Z M1485 654.70 h38 v2.2 h-38 Z M1532.53 589.9 h4.5 V671.3 h-4.5 Z M1517 587.65 h36 v4.5 h-36 Z M1516 588.80 h38 v2.2 h-38 Z M1517 669.05 h36 v4.5 h-36 Z M1516 670.20 h38 v2.2 h-38 Z M1562.84 632.9 h4.5 V753.9 h-4.5 Z M1547 630.65 h36 v4.5 h-36 Z M1546 631.80 h38 v2.2 h-38 Z M1547 751.65 h36 v4.5 h-36 Z M1546 752.80 h38 v2.2 h-38 Z M1593.15 706.2 h4.5 V870.9 h-4.5 Z M1577 703.95 h36 v4.5 h-36 Z M1576 705.10 h38 v2.2 h-38 Z M1577 868.65 h36 v4.5 h-36 Z M1576 869.80 h38 v2.2 h-38 Z M1623.46 805.5 h4.5 V993.5 h-4.5 Z M1608 803.25 h36 v4.5 h-36 Z M1607 804.40 h38 v2.2 h-38 Z M1608 991.25 h36 v4.5 h-36 Z M1607 992.40 h38 v2.2 h-38 Z M1653.77 917.0 h4.5 V1099.4 h-4.5 Z M1638 914.75 h36 v4.5 h-36 Z M1637 915.90 h38 v2.2 h-38 Z M1638 1097.15 h36 v4.5 h-36 Z M1637 1098.30 h38 v2.2 h-38 Z M1684.08 1024.2 h4.5 V1176.6 h-4.5 Z M1668 1021.95 h36 v4.5 h-36 Z M1667 1023.10 h38 v2.2 h-38 Z M1668 1174.35 h36 v4.5 h-36 Z M1667 1175.50 h38 v2.2 h-38 Z M1714.39 1110.9 h4.5 V1229.0 h-4.5 Z M1699 1108.65 h36 v4.5 h-36 Z M1698 1109.80 h38 v2.2 h-38 Z M1699 1226.75 h36 v4.5 h-36 Z M1698 1227.90 h38 v2.2 h-38 Z M1744.70 1170.5 h4.5 V1260.0 h-4.5 Z M1729 1168.25 h36 v4.5 h-36 Z M1728 1169.40 h38 v2.2 h-38 Z M1775.01 1207.0 h4.5 V1260.0 h-4.5 Z M1759 1204.75 h36 v4.5 h-36 Z M1758 1205.90 h38 v2.2 h-38 Z M1805.32 1227.0 h4.5 V1260.0 h-4.5 Z M1790 1224.75 h36 v4.5 h-36 Z M1789 1225.90 h38 v2.2 h-38 Z M1835.63 1237.7 h4.5 V1260.0 h-4.5 Z M1820 1235.45 h36 v4.5 h-36 Z M1819 1236.60 h38 v2.2 h-38 Z M1865.94 1235.8 h4.5 V1260.0 h-4.5 Z M1850 1233.55 h36 v4.5 h-36 Z M1849 1234.70 h38 v2.2 h-38 Z M1896.25 1220.8 h4.5 V1260.0 h-4.5 Z M1880 1218.55 h36 v4.5 h-36 Z M1879 1219.70 h38 v2.2 h-38 Z" fill="#990000" stroke="none"/></g>
<path d="M1039 48 H1207" stroke="#000" stroke-width="8" stroke-linecap="round" fill="none"/>
<path d="M1039 145 H1207" stroke="#808000" stroke-width="10" stroke-linecap="round" fill="none"/>
<path d="M1038.5 242.5 H1207.5" stroke="#ff0000" stroke-width="9" stroke-linecap="round" fill="none"/>
<g filter="url(#crisp)">
<g font-size="75.5">
<text x="1248.1 1299.8 1346.0 1393.1 1422.6 1453.9 1499.0" y="78">Control</text>
<text x="1247.9 1289.5 1334.0 1372.2 1417.8 1427.8 1478.1 1510.3 1520.3 1582.4 1655.0 1675.9 1724.5" y="175">Laser (5 min)</text>
<text x="1247.9 1289.5 1334.0 1372.2 1417.8 1427.8 1478.1 1509.0 1557.2 1567.2 1630.7 1703.2 1723.1 1771.5" y="272">Laser (30 min)</text>
<text x="957.9 1017.7 1027.7 1068.9 1114.6" y="1472">D, nm</text>
<text transform="translate(75 0) rotate(-90)" x="-906.5 -878.9 -831.8 -803.0 -758.2 -710.9 -672.2 -651.6 -622.5 -575.6 -565.6 -524.6 -477.4 -452.6 -403.5" y="0">Intensity, a.u.</text>
</g>
<g font-size="56.5">
<text x="202.6" y="1264.0" text-anchor="end">0</text>
<text x="202.6" y="1025.0" text-anchor="end">2</text>
<text x="202.6" y="786.0" text-anchor="end">4</text>
<text x="202.6" y="547.0" text-anchor="end">6</text>
<text x="202.6" y="308.0" text-anchor="end">8</text>
<text x="202.6" y="69.0" text-anchor="end">10</text>
<text x="292.1" y="1343" text-anchor="middle">1</text>
<text x="754.3" y="1343" text-anchor="middle">10</text>
<text x="1216.5" y="1343" text-anchor="middle">100</text>
<text x="1678.8" y="1343" text-anchor="middle">1000</text>
</g>
</g>
</svg></body></html>
